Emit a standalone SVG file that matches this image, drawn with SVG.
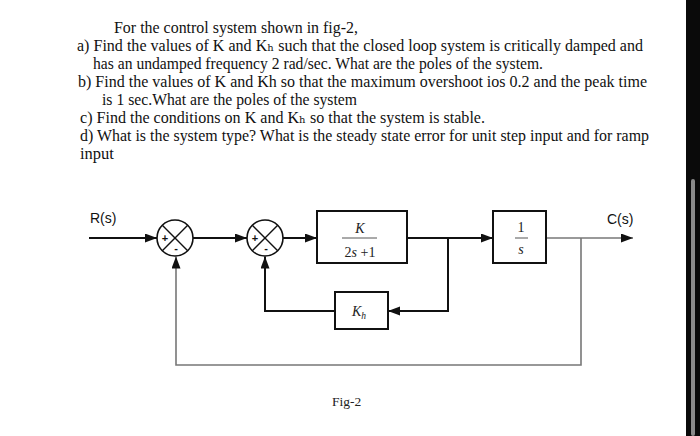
<svg xmlns="http://www.w3.org/2000/svg" width="700" height="436" viewBox="0 0 700 436">
<style>
.q{font-family:"Liberation Serif","Times New Roman","DejaVu Serif",serif;font-size:16.5px;fill:#111}
.lab{font-family:"Liberation Sans",Arial,sans-serif;font-size:14px;fill:#111}
.m{font-family:"Liberation Serif","Times New Roman",serif;font-style:italic;font-size:14px;fill:#222}
.n{font-family:"Liberation Serif","Times New Roman",serif;font-size:14px;fill:#222}
.blk{fill:#fff;stroke:#111;stroke-width:2}
.w{fill:none;stroke:#111;stroke-width:2}
.g{fill:none;stroke:#777;stroke-width:1.6}
.sum{fill:#fff;stroke:#111;stroke-width:1.6}
.sg{font-family:"Liberation Sans",Arial,sans-serif;font-size:11px;fill:#111;font-weight:bold}
</style>
<defs>
<marker id="ah" markerUnits="userSpaceOnUse" markerWidth="13" markerHeight="10" refX="12" refY="4.5" orient="auto">
<path d="M0,0 L12,4.5 L0,9 z" fill="#111"/>
</marker>
</defs>
<rect width="700" height="436" fill="#fff"/>
<g id="question">
<text class="q" x="114" y="33" textLength="244" lengthAdjust="spacingAndGlyphs">For the control system shown in fig-2,</text>
<text class="q" x="77" y="51" textLength="566" lengthAdjust="spacingAndGlyphs">a) Find the values of K and Kₕ such that the closed loop system is critically damped and</text>
<text class="q" x="93" y="69" textLength="450" lengthAdjust="spacingAndGlyphs">has an undamped frequency 2 rad/sec. What are the poles of the system.</text>
<text class="q" x="78" y="87" textLength="569" lengthAdjust="spacingAndGlyphs">b) Find the values of K and Kh so that the maximum overshoot ios 0.2 and the peak time</text>
<text class="q" x="102" y="105" textLength="255" lengthAdjust="spacingAndGlyphs">is 1 sec.What are the poles of the system</text>
<text class="q" x="80" y="123" textLength="405" lengthAdjust="spacingAndGlyphs">c) Find the conditions on K and Kₕ so that the system is stable.</text>
<text class="q" x="80" y="141" textLength="569" lengthAdjust="spacingAndGlyphs">d) What is the system type? What is the steady state error for unit step input and for ramp</text>
<text class="q" x="80" y="159">input</text>
</g>
<g id="connectors">
<line class="w" x1="89" y1="238" x2="157" y2="238" marker-end="url(#ah)"/>
<line class="w" x1="193" y1="238" x2="247" y2="238" marker-end="url(#ah)"/>
<line class="w" x1="283" y1="238" x2="317" y2="238" marker-end="url(#ah)"/>
<line class="w" x1="407" y1="238" x2="493" y2="238" marker-end="url(#ah)"/>
<polyline class="w" points="448,238 448,311 388,311" marker-end="url(#ah)"/>
<polyline class="w" points="335,311 265,311 265,256.5" marker-end="url(#ah)"/>
<line class="g" x1="546" y1="238" x2="633" y2="238" marker-end="url(#ah)"/>
<polyline class="g" points="581,238 581,365 176,365 176,256.5" marker-end="url(#ah)"/>
</g>
<g id="sum1">
<circle class="sum" cx="175" cy="238" r="18"/>
<line x1="162.3" y1="225.3" x2="187.7" y2="250.7" stroke="#111" stroke-width="1.4"/>
<line x1="187.7" y1="225.3" x2="162.3" y2="250.7" stroke="#111" stroke-width="1.4"/>
<text class="sg" x="165" y="242" text-anchor="middle">+</text>
<text class="sg" x="176" y="252" text-anchor="middle">-</text>
</g>
<g id="sum2">
<circle class="sum" cx="265" cy="238" r="18"/>
<line x1="252.3" y1="225.3" x2="277.7" y2="250.7" stroke="#111" stroke-width="1.4"/>
<line x1="277.7" y1="225.3" x2="252.3" y2="250.7" stroke="#111" stroke-width="1.4"/>
<text class="sg" x="255" y="242" text-anchor="middle">+</text>
<text class="sg" x="266" y="252" text-anchor="middle">-</text>
</g>
<g id="plant">
<rect class="blk" x="317" y="211" width="90" height="52"/>
<text class="m" x="360" y="233" text-anchor="middle">K</text>
<line x1="342" y1="238" x2="377" y2="238" stroke="#555" stroke-width="1"/>
<text class="n" x="360" y="257" text-anchor="middle">2<tspan font-style="italic">s</tspan> +1</text>
</g>
<g id="kh">
<rect class="blk" x="335" y="292" width="53" height="37"/>
<text class="m" x="359" y="316" text-anchor="middle">K<tspan font-size="9.5" dy="3">h</tspan></text>
</g>
<g id="integrator">
<rect class="blk" x="493" y="211" width="53" height="52"/>
<text class="n" x="521" y="232" text-anchor="middle">1</text>
<line x1="515" y1="238" x2="528" y2="238" stroke="#555" stroke-width="1"/>
<text class="m" x="521" y="254" text-anchor="middle">s</text>
</g>
<g id="labels">
<text class="lab" x="90" y="223">R(s)</text>
<text class="lab" x="607" y="224">C(s)</text>
<text x="332" y="406" font-family="Liberation Serif,serif" font-size="13.5" fill="#222">Fig-2</text>
</g>
<rect x="686" y="0" width="14" height="436" fill="#0a0a0a"/>
<rect x="691" y="179" width="4" height="257" rx="2" fill="#8a8a8a"/>
</svg>
